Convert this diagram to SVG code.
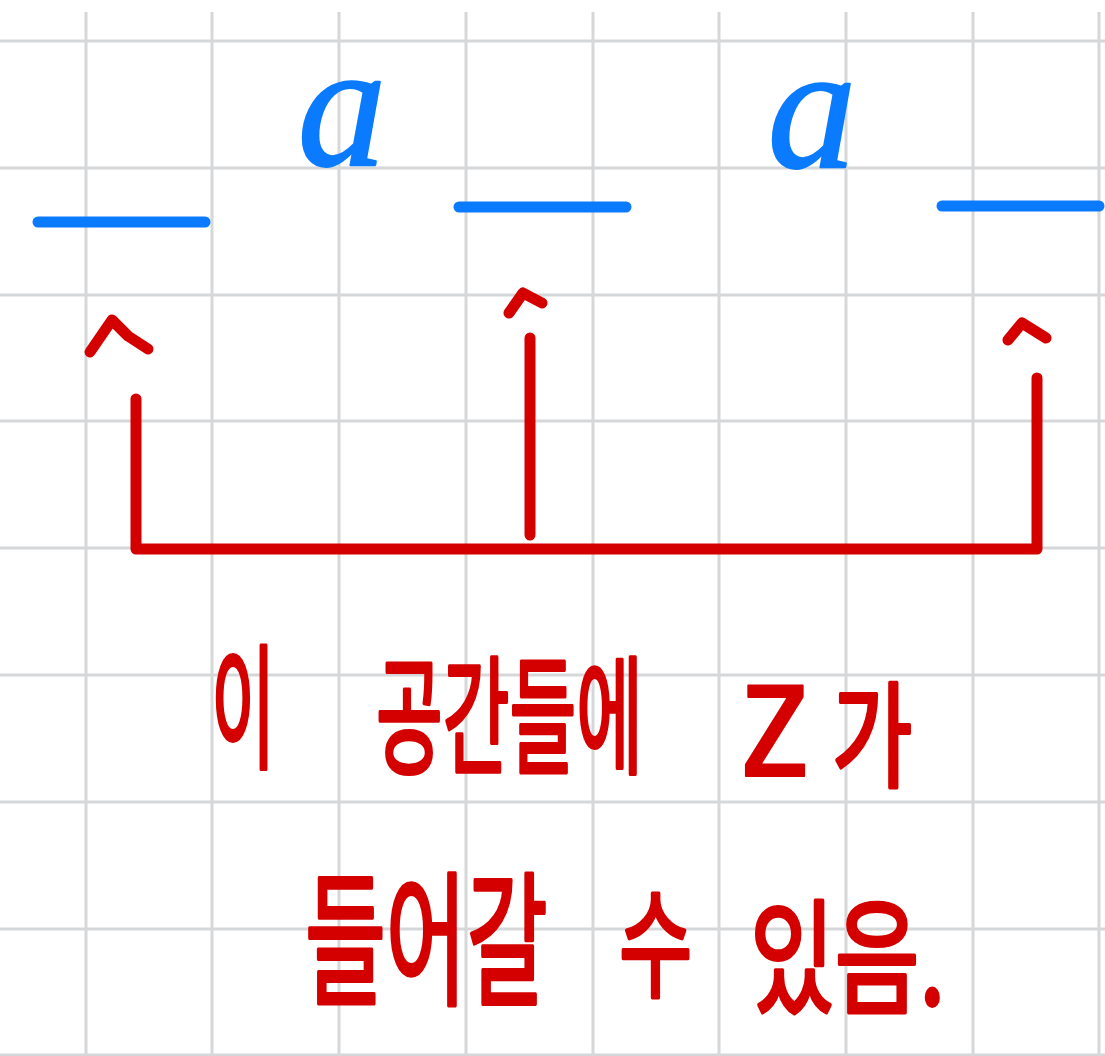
<svg xmlns="http://www.w3.org/2000/svg" width="1105" height="1056" viewBox="0 0 1105 1056">
<style>
.grid{stroke:#d6d7d9;stroke-width:3;fill:none}
.blue{stroke:#0a7bff;stroke-width:11;stroke-linecap:round;fill:none}
.red{stroke:#d40000;stroke-width:11;stroke-linecap:round;stroke-linejoin:round;fill:none}
.a{font-family:"Liberation Serif",serif;font-style:italic;fill:#0a7bff;stroke:#0a7bff;stroke-width:2;stroke-linejoin:round;text-anchor:middle}
.ko{font-family:"Noto Sans CJK KR","Noto Sans",sans-serif;fill:#d40000;stroke:#d40000;stroke-width:4;stroke-linejoin:round}
.z{font-family:"Liberation Sans",sans-serif;fill:#d40000;stroke:#d40000;stroke-width:2;stroke-linejoin:round}
</style>
<rect width="1105" height="1056" fill="#ffffff"/>
<g id="grid" class="grid">
<path d="M86 12V1056M212 12V1056M339 12V1056M466 12V1056M593 12V1056M719 12V1056M846 12V1056M973 12V1056M1099 12V1056"/>
<path d="M0 41H1105M0 168H1105M0 295H1105M0 421H1105M0 548H1105M0 675H1105M0 802H1105M0 929H1105M0 1055H1105"/>
</g>
<g id="blanks">
<line class="blue" x1="38" y1="222" x2="205" y2="222"/>
<line class="blue" x1="459" y1="207" x2="626" y2="207"/>
<line class="blue" x1="942" y1="206" x2="1099" y2="206"/>
</g>
<g id="labels-a">
<text class="a" x="342" y="165" font-size="178">a</text>
<text class="a" x="812" y="167" font-size="178">a</text>
</g>
<g id="connectors">
<path class="red" d="M136 399V549H1037V378"/>
<path class="red" d="M530 338V535"/>
<path class="red" d="M90 352L112 320L128 336L148 349"/>
<path class="red" d="M509 313L523 293L542 303"/>
<path class="red" d="M1008 340L1022 323L1046 338"/>
</g>
<g id="caption">
<text class="ko" transform="matrix(0.52,0,0,1,211,758)" font-size="135">이</text>
<text class="ko" transform="matrix(0.567,0,0,1,376,764)" font-size="128">공간들에</text>
<text class="z" transform="matrix(0.84,0,0,1,740,776)" font-size="170">z</text>
<text class="ko" transform="matrix(0.758,0,0,1,832,778)" font-size="115">가</text>
<text class="ko" transform="matrix(0.606,0,0,1,305,994)" font-size="145">들어갈</text>
<text class="ko" transform="matrix(0.676,0,0,1,619,988)" font-size="118">수</text>
<text class="ko" transform="matrix(0.737,0,0,1,750,1004)" font-size="125">있음.</text>
</g>
</svg>
